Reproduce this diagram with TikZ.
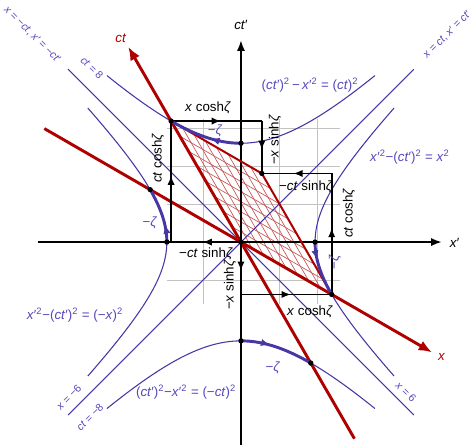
\documentclass[tikz,border=0pt]{standalone}
\usepackage{fontspec}
\setmainfont{Liberation Sans}
\usetikzlibrary{arrows.meta,calc,decorations.markings}
\definecolor{hypblue}{RGB}{70,55,165}
\definecolor{lblblue}{RGB}{85,72,185}
\definecolor{axred}{RGB}{175,0,0}
\definecolor{hatchred}{RGB}{195,85,85}
\definecolor{gridgray}{RGB}{195,195,195}
\tikzset{
  midarrow/.style={postaction={decorate,decoration={markings,
      mark=at position #1 with {\arrow{Latex[length=7pt,width=5.5pt]}}}}},
  hyp/.style={hypblue,line width=0.8pt},
  rap/.style={hypblue,line width=2.2pt,midarrow=#1},
  leg/.style={line width=1.4pt,midarrow=0.55},
  redaxis/.style={axred,line width=2.2pt,-{Latex[length=10pt,width=8pt]}},
  blackaxis/.style={line width=1.4pt,-{Latex[length=8pt,width=6pt]}},
  eqn/.style={text=lblblue},
  asy/.style={text=lblblue,font=\fontsize{8}{9}\selectfont,inner sep=1pt},
  dot/.style={circle,fill=black,inner sep=0pt,minimum size=4pt},
}
\newcommand\zet{\textit{ζ}}
\begin{document}
\begin{tikzpicture}[x=9.26pt,y=9.26pt,font=\fontsize{10}{12}\selectfont]
\useasboundingbox (-19.51,-16.44) rectangle (18.87,19.6);
% grid of the primed frame
\draw[gridgray,line width=0.5pt] (-6,-5) grid (8,10);
% events
\coordinate (O) at (0,0);
\coordinate (A) at (-5.657,9.798);
\coordinate (B) at (7.348,-4.243);
\coordinate (C) at (1.691,5.555);
\coordinate (P1) at (1.691,9.798);
\coordinate (P2) at (-5.657,0);
\coordinate (Q1) at (0,-4.243);
\coordinate (Q2) at (7.348,5.555);
% hatching of the parallelogram
\foreach \k in {1,...,7}
  \draw[hatchred,line width=0.5pt] ($(O)!\k/8!(A)$) -- ($(B)!\k/8!(C)$);
\foreach \k in {1,...,7}
  \draw[hatchred,line width=0.5pt] ($(O)!\k/8!(B)$) -- ($(A)!\k/8!(C)$);
% light cone
\coordinate (NW) at (-14,14); \coordinate (SE) at (14,-14);
\coordinate (NE) at (14,14);  \coordinate (SW) at (-14,-14);
\draw[hyp] (NW) -- (SE);
\draw[hyp] (SW) -- (NE);
% hyperbolas
\draw[hyp] plot[domain=-10.85:10.85,samples=60] (\x,{sqrt(64+\x*\x)});
\draw[hyp] plot[domain=-10.85:10.85,samples=60] (\x,{-sqrt(64+\x*\x)});
\draw[hyp] plot[domain=-10.85:10.85,samples=60] ({sqrt(36+\x*\x)},\x);
\draw[hyp] plot[domain=-10.85:10.85,samples=60] ({-sqrt(36+\x*\x)},\x);
% unprimed axes
\coordinate (ctlo) at (9.19,-15.92);  \coordinate (cthi) at (-9.12,15.8);
\coordinate (xlo) at (-15.92,9.19);   \coordinate (xhi) at (15.47,-8.93);
\draw[redaxis] (ctlo) -- (cthi);
\draw[redaxis] (xlo) -- (xhi);
\node[axred] (ctlbl) at (-9.72,16.52) {\textit{ct}};
\node[axred] (xlbl) at (16.25,-9.3) {\textit{x}};
% primed axes
\coordinate (vlo) at (0,-16.44); \coordinate (vhi) at (0,16.35);
\coordinate (hlo) at (-16.44,0); \coordinate (hhi) at (16.27,0);
\draw[blackaxis] (vlo) -- (vhi);
\draw[blackaxis] (hlo) -- (hhi);
\node (ctplbl) at (0,17.6) {\textit{ct}′};
\node (xplbl) at (17.3,-0.05) {\textit{x}′};
% parallelogram edges
\draw[axred,line width=1.5pt] (A) -- (C) -- (B);
% the two paths
\foreach \a/\b in {O/P2,P2/A,A/P1,P1/C,O/Q1,Q1/B,B/Q2,Q2/C}
  \draw[leg] (\a) -- (\b);
% rapidity arcs
\draw[rap=0.42] plot[domain=0:-5.657,samples=40] (\x,{sqrt(64+\x*\x)});
\draw[rap=0.4] plot[domain=0:5.657,samples=40] (\x,{-sqrt(64+\x*\x)});
\draw[rap=0.32] plot[domain=0:-4.243,samples=40] ({sqrt(36+\x*\x)},\x);
\draw[rap=0.32] plot[domain=0:4.243,samples=40] ({-sqrt(36+\x*\x)},\x);
% events on the hyperbolas
\foreach \p/\q in {0/8,0/-8,6/0,-6/0,-5.657/9.798,5.657/-9.798,7.348/-4.243,-7.348/4.243,1.691/5.555,0/0}
  \node[dot] at (\p,\q) {};
% leg labels
\node (l1) at (-2.67,10.85) {\textit{x} cosh\zet};
\node[rotate=90] (l2) at (2.75,8.26) {−\textit{x} sinh\zet};
\node (l3) at (5.26,4.45) {−\textit{ct} sinh\zet};
\node[rotate=90] (l4) at (8.74,2.35) {\textit{ct} cosh\zet};
\node[rotate=90] (l5) at (-6.72,6.8) {\textit{ct} cosh\zet};
\node (l6) at (-2.83,-0.97) {−\textit{ct} sinh\zet};
\node[rotate=90] (l7) at (-0.89,-3.48) {−\textit{x} sinh\zet};
\node (l8) at (5.59,-5.67) {\textit{x} cosh\zet};
% rapidity labels
\node[eqn] (z1) at (-2.1,8.99) {−\zet};
\node[eqn] (z2) at (2.59,-10.2) {−\zet};
\node[eqn,rotate=90] (z3) at (7.61,-1.62) {−\zet};
\node[eqn] (z4) at (-7.37,1.54) {−\zet};
% hyperbola equations
\node[eqn] (e1) at (5.59,12.71) {(\textit{ct}′)\textsuperscript{2}\,−\,\textit{x}′\textsuperscript{2} = (\textit{ct})\textsuperscript{2}};
\node[eqn] (e2) at (13.68,6.88) {\textit{x}′\textsuperscript{2}−(\textit{ct}′)\textsuperscript{2} = \textit{x}\textsuperscript{2}};
\node[eqn] (e3) at (-13.44,-5.91) {\textit{x}′\textsuperscript{2}−(\textit{ct}′)\textsuperscript{2} = (−\textit{x})\textsuperscript{2}};
\node[eqn] (e4) at (-4.45,-12.15) {(\textit{ct}′)\textsuperscript{2}−\textit{x}′\textsuperscript{2} = (−\textit{ct})\textsuperscript{2}};
% light cone and hyperbola tags
\node[asy,rotate=-45] (t1) at (-16.9,16.8) {\textit{x} = −\textit{ct}, \textit{x}′ = −\textit{ct}′};
\node[asy,rotate=45] (t2) at (16.7,16.8) {\textit{x} = \textit{ct}, \textit{x}′ = \textit{ct}′};
\node[asy,rotate=-45] (t3) at (-12.06,14.09) {\textit{ct} = 8};
\node[asy,rotate=45] (t4) at (-13.93,-12.55) {\textit{x} = −6};
\node[asy,rotate=45] (t5) at (-12.23,-14.17) {\textit{ct} = −8};
\node[asy,rotate=-45] (t6) at (13.36,-12.15) {\textit{x} = 6};
\end{tikzpicture}
\end{document}
